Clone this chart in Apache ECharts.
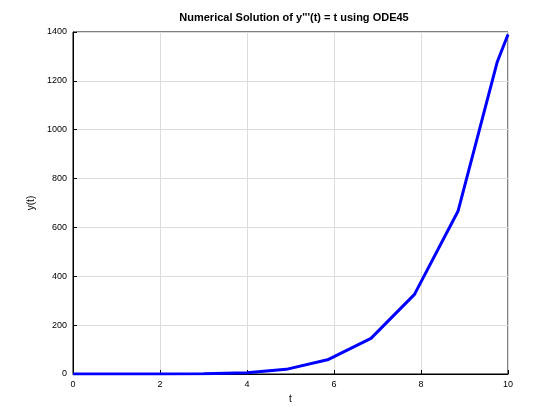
<!DOCTYPE html>
<html lang="en">
<head>
<meta charset="UTF-8">
<title>ODE45</title>
<script src="https://cdn.jsdelivr.net/npm/echarts@6/dist/echarts.min.js"></script>
<style>body{margin:0;background:#fff}</style>
</head>
<body>
<div id="main" style="width:560px;height:420px"></div>
<script>
var tVals = [0, 1, 2, 3, 4, 4.9, 5.85, 6.85, 7.85, 8.85, 9.75, 10];
var yVals = [0, 0, 0.3, 1.5, 5, 19, 58, 146, 326, 666, 1276, 1390];

var pts = [];
for (var i = 0; i < tVals.length; i++) pts.push([tVals[i], yVals[i]]);

var font = 'Liberation Sans, Arial, sans-serif';
var chart = echarts.init(document.getElementById('main'));
chart.setOption({
    animation: false,
    title: {
        text: "Numerical Solution of y'''(t) = t using ODE45",
        left: 289, top: 7, textAlign: 'center',
        textStyle: {fontSize: 11, fontWeight: 'bold', color: '#000', fontFamily: font}
    },
    grid: {left: 73, right: 52, top: 32, bottom: 46, show: true, borderColor: '#000', borderWidth: 1},
    xAxis: {
        type: 'value', min: 0, max: 10, interval: 2,
        name: 't', nameLocation: 'middle', nameGap: 20,
        nameTextStyle: {fontSize: 10, color: '#000', fontFamily: font},
        axisLine: {lineStyle: {color: '#000'}},
        axisTick: {inside: true, length: 4, lineStyle: {color: '#000'}},
        axisLabel: {fontSize: 9, color: '#000', fontFamily: font, margin: 6},
        splitLine: {lineStyle: {color: '#dcdcdc'}}
    },
    yAxis: {
        type: 'value', min: 0, max: 1400, interval: 200,
        name: 'y(t)', nameLocation: 'middle', nameGap: 36,
        nameTextStyle: {fontSize: 10, color: '#000', fontFamily: font},
        axisLine: {lineStyle: {color: '#000'}},
        axisTick: {inside: true, length: 4, lineStyle: {color: '#000'}},
        axisLabel: {fontSize: 9, color: '#000', fontFamily: font, margin: 6,
            formatter: function (v) { return String(v); }},
        splitLine: {lineStyle: {color: '#dcdcdc'}}
    },
    series: [{
        type: 'line', data: pts, symbol: 'none',
        lineStyle: {color: '#0000ff', width: 3}
    }]
});
</script>
</body>
</html>
